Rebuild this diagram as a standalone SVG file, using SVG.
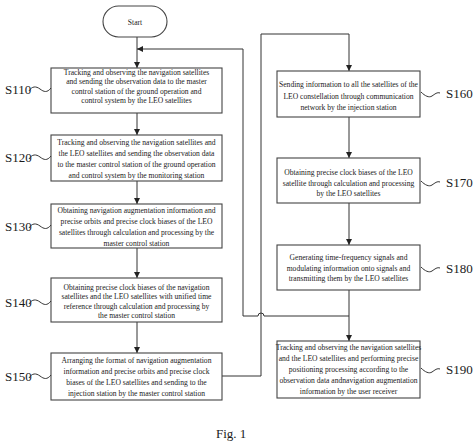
<svg xmlns="http://www.w3.org/2000/svg" width="474" height="445" viewBox="0 0 474 445">
<defs>
<marker id="ah" viewBox="0 0 8 8" refX="8" refY="4" markerWidth="6" markerHeight="6" orient="auto" markerUnits="userSpaceOnUse">
<path d="M0,0 L8,4 L0,8 Z" fill="#222"/>
</marker>
<style>
.box{fill:#fff;stroke:#444;stroke-width:1.1}
.t{font-family:"Liberation Serif","Times New Roman",serif;font-size:7.6px;fill:#1a1a1a;text-anchor:middle}
.lbl{font-family:"Liberation Serif","Times New Roman",serif;font-size:13px;fill:#1a1a1a}
.ln{fill:none;stroke:#333;stroke-width:1}
.tl{fill:none;stroke:#333;stroke-width:1}
</style>
</defs>
<rect width="474" height="445" fill="#fff"/>

<g id="connectors">
<path class="ln" d="M137,37 V68" marker-end="url(#ah)"/>
<path class="ln" d="M137,113 V135" marker-end="url(#ah)"/>
<path class="ln" d="M137,181 V204" marker-end="url(#ah)"/>
<path class="ln" d="M137,248 V278" marker-end="url(#ah)"/>
<path class="ln" d="M137,322 V353" marker-end="url(#ah)"/>
<path class="ln" d="M222,376 H261 V34 H349 V71" marker-end="url(#ah)"/>
<path class="ln" d="M349,117 V158" marker-end="url(#ah)"/>
<path class="ln" d="M349,203 V245" marker-end="url(#ah)"/>
<path class="ln" d="M349,290 V341" marker-end="url(#ah)"/>
<path class="ln" d="M349,316 H264 A3,3 0 0 0 258,316 H243 V49 H137" marker-end="url(#ah)"/>
</g>

<g id="start">
<rect x="103" y="6" width="64" height="31" rx="15.5" class="box"/>
<text class="t" x="135" y="24.5">Start</text>
</g>

<g id="S110">
<rect x="51" y="68" width="171" height="45" class="box"/>
<text class="t" x="136.5" y="75">Tracking and observing the navigation satellites</text>
<text class="t" x="136.5" y="84.3">and sending the observation data to the master</text>
<text class="t" x="136.5" y="93.6">control station of the ground operation and</text>
<text class="t" x="136.5" y="102.9">control system by the LEO satellites</text>
<text class="lbl" x="5" y="94">S110</text>
<path class="tl" d="M29,91 C32,86 36,86 40,89 S47,93 51,88"/>
</g>

<g id="S120">
<rect x="51" y="135" width="171" height="46" class="box"/>
<text class="t" x="136.5" y="145">Tracking and observing the navigation satellites and</text>
<text class="t" x="136.5" y="156">the LEO satellites and sending the observation data</text>
<text class="t" x="136.5" y="167">to the master control station of the ground operation</text>
<text class="t" x="136.5" y="178">and control system by the monitoring station</text>
<text class="lbl" x="5" y="162">S120</text>
<path class="tl" d="M29,159 C32,154 36,154 40,157 S47,161 51,156"/>
</g>

<g id="S130">
<rect x="51" y="204" width="171" height="44" class="box"/>
<text class="t" x="136.5" y="213">Obtaining navigation augmentation information and</text>
<text class="t" x="136.5" y="224">precise orbits and precise clock biases of the LEO</text>
<text class="t" x="136.5" y="235">satellites through calculation and processing by the</text>
<text class="t" x="136.5" y="246">master control station</text>
<text class="lbl" x="5" y="231">S130</text>
<path class="tl" d="M29,228 C32,223 36,223 40,226 S47,230 51,225"/>
</g>

<g id="S140">
<rect x="51" y="278" width="171" height="44" class="box"/>
<text class="t" x="136.5" y="289.5">Obtaining precise clock biases of the navigation</text>
<text class="t" x="136.5" y="299">satellites and the LEO satellites with unified time</text>
<text class="t" x="136.5" y="308.5">reference through calculation and processing by</text>
<text class="t" x="136.5" y="318">the master control station</text>
<text class="lbl" x="5" y="307">S140</text>
<path class="tl" d="M29,304 C32,299 36,299 40,302 S47,306 51,301"/>
</g>

<g id="S150">
<rect x="51" y="353" width="171" height="47" class="box"/>
<text class="t" x="136.5" y="362.5">Arranging the format of navigation augmentation</text>
<text class="t" x="136.5" y="373.5">information and precise orbits and precise clock</text>
<text class="t" x="136.5" y="385">biases of the LEO satellites and sending to the</text>
<text class="t" x="136.5" y="396">injection station by the master control station</text>
<text class="lbl" x="5" y="381">S150</text>
<path class="tl" d="M29,378 C32,373 36,373 40,376 S47,380 51,375"/>
</g>

<g id="S160">
<rect x="277" y="71" width="143" height="46" class="box"/>
<text class="t" x="348.5" y="87">Sending information to all the satellites of the</text>
<text class="t" x="348.5" y="98.5">LEO constellation through communication</text>
<text class="t" x="348.5" y="110">network by the injection station</text>
<path class="tl" d="M421,92 C425,96 429,98 432,96 S437,92 440,93"/>
<text class="lbl" x="446" y="98">S160</text>
</g>

<g id="S170">
<rect x="277" y="158" width="143" height="45" class="box"/>
<text class="t" x="348.5" y="174.5">Obtaining precise clock biases of the LEO</text>
<text class="t" x="348.5" y="185.5">satellite through calculation and processing</text>
<text class="t" x="348.5" y="196">by the LEO satellites</text>
<path class="tl" d="M421,181 C425,185 429,187 432,185 S437,181 440,182"/>
<text class="lbl" x="446" y="187">S170</text>
</g>

<g id="S180">
<rect x="277" y="245" width="143" height="45" class="box"/>
<text class="t" x="348.5" y="259.5">Generating time-frequency signals and</text>
<text class="t" x="348.5" y="270.5">modulating information onto signals and</text>
<text class="t" x="348.5" y="281">transmitting them by the LEO satellites</text>
<path class="tl" d="M421,267 C425,271 429,273 432,271 S437,267 440,268"/>
<text class="lbl" x="446" y="273">S180</text>
</g>

<g id="S190">
<rect x="277" y="341" width="143" height="57" class="box"/>
<text class="t" x="348.5" y="349.5">Tracking and observing the navigation satellites</text>
<text class="t" x="348.5" y="360.5">and the LEO satellites and performing precise</text>
<text class="t" x="348.5" y="371.5">positioning processing according to the</text>
<text class="t" x="348.5" y="382.5">observation data andnavigation augmentation</text>
<text class="t" x="348.5" y="393.5">information by the user receiver</text>
<path class="tl" d="M421,368 C425,372 429,374 432,372 S437,368 440,369"/>
<text class="lbl" x="446" y="374">S190</text>
</g>

<g id="caption">
<text class="lbl" x="216" y="438" font-size="12.5">Fig. 1</text>
</g>
</svg>
